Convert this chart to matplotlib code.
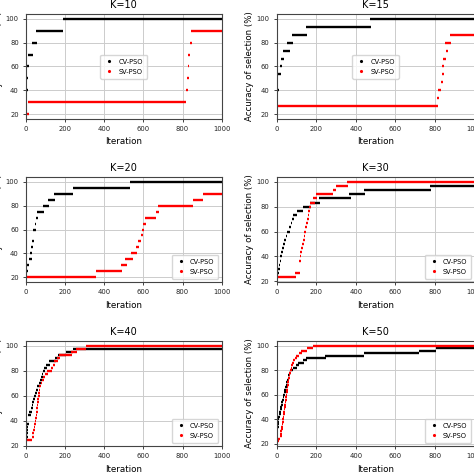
import numpy as np
import matplotlib
matplotlib.use('Agg')
import matplotlib.pyplot as plt

# each series is a list of accuracy levels (%) and the iteration span
# over which the swarm stayed at that level

titles = ['K=10', 'K=15', 'K=20', 'K=30', 'K=40', 'K=50']
legend_locs = ['center', 'center', 'lower right', 'lower right', 'lower right', 'lower right']

# K=10
k10_cv_acc = [40, 50, 60, 70, 80, 90, 100]
k10_cv_from = [3, 5, 8, 13, 30, 54, 190]
k10_cv_to = [5, 7, 10, 38, 58, 191, 1000]
k10_sv_acc = [20, 30, 40, 50, 60, 70, 80, 90]
k10_sv_from = [0, 10, 818, 822, 826, 830, 838, 842]
k10_sv_to = [15, 818, 820, 824, 828, 840, 841, 1000]

# K=15
k15_cv_acc = [33.3, 40, 53.3, 60, 66.7, 73.3, 80, 86.7, 93.3, 100]
k15_cv_from = [1, 2, 7, 20, 21, 34, 54, 79, 150, 474]
k15_cv_to = [3, 10, 24, 27, 40, 66, 84, 155, 477, 1000]
k15_sv_acc = [20, 26.7, 33.3, 40, 46.7, 53.3, 60, 66.7, 73.3, 80, 86.7]
k15_sv_from = [0, 10, 812, 815, 830, 835, 838, 840, 855, 853, 878]
k15_sv_to = [10, 815, 815, 830, 832, 837, 840, 856, 857, 882, 1000]

# K=20
k20_cv_acc = [25, 30, 35, 40, 45, 50, 60, 65, 70, 75, 80, 85, 90, 95, 100]
k20_cv_from = [1, 3, 15, 22, 26, 33, 39, 45, 50, 59, 88, 115, 145, 240, 530]
k20_cv_to = [5, 18, 30, 34, 38, 42, 52, 55, 64, 93, 120, 149, 243, 532, 1000]
k20_sv_acc = [20, 25, 30, 35, 40, 45, 50, 55, 60, 65, 70, 75, 80, 85, 90]
k20_sv_from = [0, 361, 485, 508, 539, 561, 575, 590, 595, 598, 610, 663, 676, 853, 903]
k20_sv_to = [361, 492, 515, 547, 568, 578, 588, 595, 598, 615, 666, 680, 856, 907, 1000]

# K=30
k30_cv_acc = [26.7, 30, 33.3, 36.7, 40, 43.3, 46.7, 50, 53.3, 56.7, 60, 63.3,
              66.7, 70, 73.3, 76.7, 80, 83.3, 86.7, 90, 93.3, 96.7]
k30_cv_from = [3, 7, 11, 16, 20, 24, 29, 34, 40, 46, 51, 63, 71, 80, 85, 102,
               134, 170, 215, 368, 444, 775]
k30_cv_to = [8, 12, 14, 19, 22, 27, 32, 37, 43, 54, 68, 71, 80, 88, 102, 136,
             173, 220, 376, 449, 780, 1000]
k30_sv_acc = [23.3, 26.7, 36.7, 40, 43.3, 46.7, 50, 53.3, 56.7, 60, 63.3, 66.7,
              70, 73.3, 76.7, 80, 83.3, 86.7, 90, 93.3, 96.7, 100]
k30_sv_from = [0, 93, 113, 117, 121, 125, 129, 133, 137, 141, 145, 149, 153,
               157, 161, 163, 170, 186, 200, 283, 298, 356]
k30_sv_to = [97, 118, 115, 119, 123, 127, 131, 135, 139, 143, 147, 151, 155,
             159, 163, 175, 195, 207, 283, 300, 360, 1000]

# K=40
k40_cv_acc = [27.5, 30, 32.5, 35, 37.5, 45, 47.5, 50, 52.5, 55, 57.5, 60, 62.5,
              65, 67.5, 70, 72.5, 75, 77.5, 80, 82.5, 85, 87.5, 90, 92.5, 95, 97.5]
k40_cv_from = [1, 2, 3, 4, 6, 10, 19, 27, 30, 34, 39, 42, 48, 53, 59, 68, 73,
               76, 81, 86, 95, 103, 120, 150, 165, 205, 240]
k40_cv_to = [2, 3, 4, 6, 9, 25, 30, 34, 39, 42, 47, 53, 58, 64, 73, 77, 81, 86,
             90, 98, 107, 124, 154, 170, 205, 240, 1000]
k40_sv_acc = [25, 27.5, 30, 32.5, 35, 37.5, 40, 42.5, 45, 47.5, 50, 52.5, 55,
              57.5, 60, 62.5, 65, 67.5, 70, 72.5, 75, 77.5, 80, 82.5, 85, 87.5,
              90, 92.5, 95, 97.5, 100]
k40_sv_from = [0, 31, 34, 37, 40, 43, 46, 48, 50, 52, 54, 56, 58, 60, 62, 64,
               66, 68, 76, 82, 88, 98, 108, 128, 137, 145, 160, 170, 230, 259, 307]
k40_sv_to = [30, 33, 36, 39, 42, 45, 47, 49, 51, 53, 55, 57, 59, 61, 63, 65,
             68, 78, 84, 90, 100, 112, 132, 140, 148, 165, 175, 234, 262, 310, 1000]

# K=50
k50_cv_acc = [30, 32, 34, 36, 38, 40, 42, 44, 46, 48, 50, 52, 54, 56, 58, 60,
              62, 64, 66, 68, 70, 72, 74, 76, 78, 80, 82, 84, 86, 88, 90, 92,
              94, 96, 98]
k50_cv_from = [1, 1, 2, 3, 5, 6, 9, 12, 14, 17, 19, 22, 25, 28, 31, 34, 37, 40,
               43, 46, 49, 52, 56, 60, 65, 71, 83, 97, 108, 136, 151, 247, 441,
               719, 808]
k50_cv_to = [3, 4, 5, 6, 8, 10, 13, 15, 18, 20, 23, 26, 29, 32, 35, 38, 41, 44,
             47, 50, 53, 57, 61, 66, 72, 84, 105, 115, 139, 156, 249, 441, 719,
             808, 1000]
k50_sv_acc = [22, 24, 26, 28, 30, 32, 34, 36, 38, 40, 42, 44, 46, 48, 50, 52,
              54, 56, 58, 60, 62, 64, 66, 68, 70, 72, 74, 76, 78, 80, 82, 84,
              86, 88, 90, 92, 94, 96, 98, 100]
k50_sv_from = [0, 4, 17, 19, 20, 22, 24, 26, 27, 29, 31, 32, 34, 36, 37, 39, 41,
               43, 44, 46, 48, 49, 51, 53, 54, 56, 58, 61, 64, 67, 71, 75, 79,
               84, 91, 101, 113, 125, 155, 185]
k50_sv_to = [12, 16, 19, 21, 22, 24, 26, 28, 29, 31, 33, 34, 36, 38, 39, 41, 43,
             45, 46, 48, 50, 51, 53, 55, 56, 58, 62, 65, 68, 72, 76, 80, 85, 92,
             105, 113, 130, 156, 186, 1000]

cv_series = [(k10_cv_acc, k10_cv_from, k10_cv_to), (k15_cv_acc, k15_cv_from, k15_cv_to),
             (k20_cv_acc, k20_cv_from, k20_cv_to), (k30_cv_acc, k30_cv_from, k30_cv_to),
             (k40_cv_acc, k40_cv_from, k40_cv_to), (k50_cv_acc, k50_cv_from, k50_cv_to)]
sv_series = [(k10_sv_acc, k10_sv_from, k10_sv_to), (k15_sv_acc, k15_sv_from, k15_sv_to),
             (k20_sv_acc, k20_sv_from, k20_sv_to), (k30_sv_acc, k30_sv_from, k30_sv_to),
             (k40_sv_acc, k40_sv_from, k40_sv_to), (k50_sv_acc, k50_sv_from, k50_sv_to)]

W = H = 474.0
fig = plt.figure(figsize=(4.74, 4.74), dpi=100)

lefts = [25.7, 276.5]
widths = [196, 198]
tops = [14, 177, 341]
hgt = 105

MIN_SPAN = 9  # iterations; keeps one-iteration stays visible as a dot


def draw_steps(ax, series, color):
    acc, a, b = series
    a = np.asarray(a, float)
    b = np.maximum(np.asarray(b, float), a + MIN_SPAN)
    ax.hlines(acc, a, b, colors=color, linewidth=1.7)


for i in range(6):
    r, c = divmod(i, 2)
    ax = fig.add_axes([lefts[c] / W, 1 - (tops[r] + hgt) / H, widths[c] / W, hgt / H])
    draw_steps(ax, cv_series[i], 'k')
    draw_steps(ax, sv_series[i], 'r')
    # empty handles so the legend shows dots like the original scatter
    ax.plot([], [], '.', color='k', ms=2.5, label='CV-PSO')
    ax.plot([], [], '.', color='r', ms=2.5, label='SV-PSO')
    ax.set_xlim(0, 1000)
    ax.set_xticks(np.arange(0, 1001, 200))
    ax.set_yticks([20, 40, 60, 80, 100])
    ax.grid(True, color='#cccccc', linewidth=0.7)
    ax.set_axisbelow(True)
    for s in ax.spines.values():
        s.set_color('#444444')
        s.set_linewidth(0.8)
    ax.tick_params(labelsize=4.9, length=2.5, width=0.6, pad=2.5, colors='#222222')
    ax.set_title(titles[i], fontsize=7, pad=4)
    ax.set_xlabel('Iteration', fontsize=6.3, labelpad=4)
    ax.set_ylabel('Accuracy of selection (%)', fontsize=6.2, labelpad=2)
    ax.legend(loc=legend_locs[i], fontsize=4.8, handlelength=1.5, markerscale=1.0,
              borderpad=0.6, labelspacing=0.6, handletextpad=0.6)

fig.savefig('out.png', dpi=100)
